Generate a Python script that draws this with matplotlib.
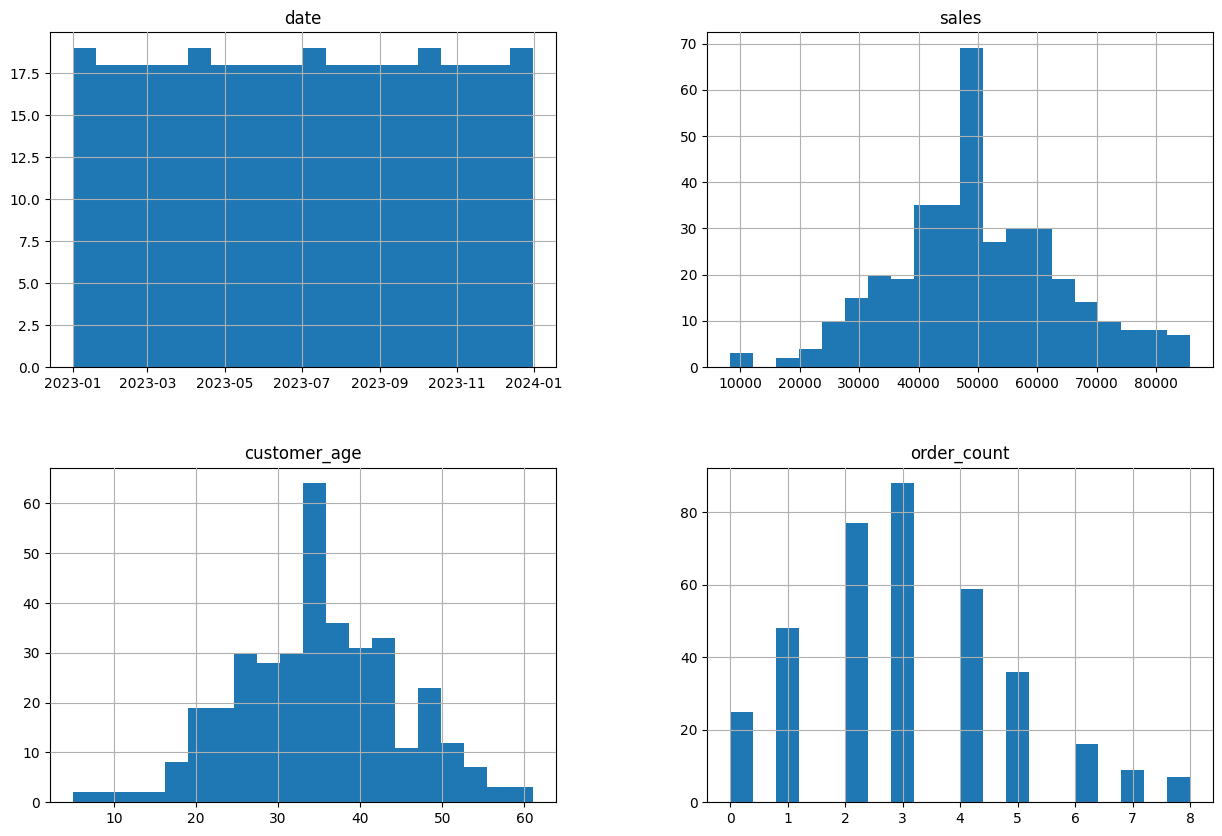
import matplotlib
matplotlib.use('Agg')
import matplotlib.pyplot as plt
import matplotlib.dates as mdates
import numpy as np

# Histogram counts (20 bins each, 365 rows)
date_start = '2023-01-01'
date_end = '2023-12-31'
date_counts = [19, 18, 18, 18, 18, 19, 18, 18, 18, 18,
               19, 18, 18, 18, 18, 19, 18, 18, 18, 19]

sales_min, sales_max = 8333, 85670
sales_counts = [3, 0, 2, 4, 10, 15, 20, 19, 35, 35,
                69, 27, 30, 30, 19, 14, 10, 8, 8, 7]

age_min, age_max = 5, 61
age_counts = [2, 2, 2, 2, 8, 19, 19, 30, 28, 30,
              64, 36, 31, 33, 11, 23, 12, 7, 3, 3]

order_min, order_max = 0, 8
order_counts = [25, 0, 48, 0, 0, 77, 0, 88, 0, 0,
                59, 0, 36, 0, 0, 16, 0, 9, 0, 7]

fig, axes = plt.subplots(2, 2, figsize=(12.22, 8.36), dpi=100)
fig.subplots_adjust(left=0.0409, right=0.9926, top=0.9614, bottom=0.0403,
                    wspace=0.3, hspace=0.3)


def draw_hist(ax, lo, hi, counts, title):
    edges = np.linspace(lo, hi, len(counts) + 1)
    ax.hist(edges[:-1], bins=edges, weights=counts, color='C0')
    ax.set_title(title)
    ax.grid(True)
    ax.set_axisbelow(False)


d0 = mdates.datestr2num(date_start)
d1 = mdates.datestr2num(date_end)
draw_hist(axes[0, 0], d0, d1, date_counts, 'date')
axes[0, 0].xaxis_date()
axes[0, 0].xaxis.set_major_locator(mdates.MonthLocator(bymonth=[1, 3, 5, 7, 9, 11]))
axes[0, 0].xaxis.set_major_formatter(mdates.DateFormatter('%Y-%m'))

draw_hist(axes[0, 1], sales_min, sales_max, sales_counts, 'sales')
draw_hist(axes[1, 0], age_min, age_max, age_counts, 'customer_age')
draw_hist(axes[1, 1], order_min, order_max, order_counts, 'order_count')

plt.savefig('out.png')
plt.close()
